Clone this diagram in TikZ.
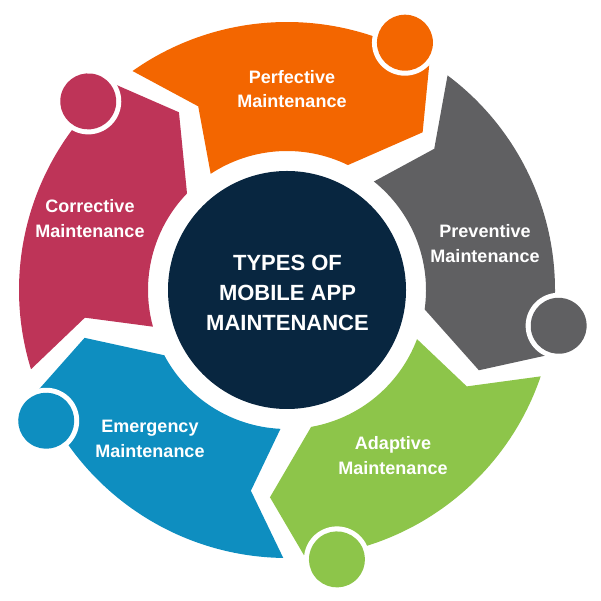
\documentclass[tikz,border=0pt]{standalone}
\usepackage{fontspec}
\setmainfont{Liberation Sans}
\definecolor{corange}{HTML}{F36600}
\definecolor{cgrey}{HTML}{606062}
\definecolor{cgreen}{HTML}{8DC54A}
\definecolor{cblue}{HTML}{0E8EC0}
\definecolor{cred}{HTML}{BE3458}
\definecolor{cnavy}{HTML}{082640}
\tikzset{
  lab/.style={text=white, align=center, font=\fontsize{18}{24.5}\selectfont\bfseries},
  hub/.style={text=white, align=center, font=\fontsize{22}{30}\selectfont\bfseries},
}
\begin{document}
\begin{tikzpicture}[x=1pt,y=1pt]
\useasboundingbox (0,0) rectangle (601,601);
\coordinate (C) at (287,311);
\fill[cnavy] (C) circle (119);
\foreach \k/\col in {0/corange,1/cgrey,2/cgreen,3/cblue,4/cred}{
  \begin{scope}[shift={(C)},rotate=-72*\k]
    \fill[\col] (125.2:268) -- (115.8:204) -- (123.3:139)
      arc[start angle=123.3,end angle=64,radius=139] -- (49.3:208) -- (57.9:268)
      arc[start angle=57.9,end angle=125.2,radius=268] -- cycle;
    \fill[white] (64.5:274) circle (33);
    \fill[\col] (64.5:274) circle (28);
  \end{scope}
}
\node[hub] (hub) at (287.5,308) {TYPES OF\\MOBILE APP\\MAINTENANCE};
\node[lab] (perf) at (292,512) {Perfective\\Maintenance};
\node[lab] (prev) at (485,357.5) {Preventive\\Maintenance};
\node[lab] (adap) at (393,145.5) {Adaptive\\Maintenance};
\node[lab] (emer) at (150,162) {Emergency\\Maintenance};
\node[lab] (corr) at (90,382.5) {Corrective\\Maintenance};
\end{tikzpicture}
\end{document}
